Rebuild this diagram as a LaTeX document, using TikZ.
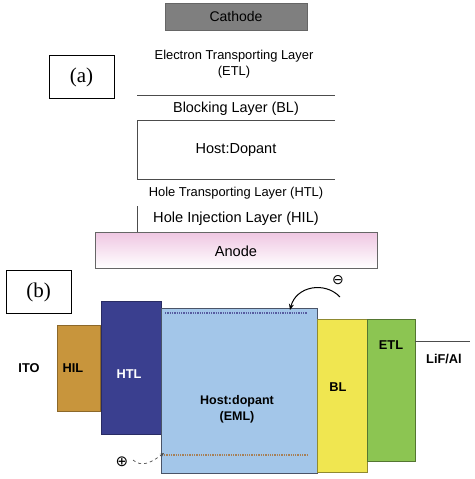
\documentclass[tikz,border=0pt]{standalone}
\usepackage{fontspec}
\setmainfont{Liberation Sans}
\newfontfamily\serifA{Liberation Serif}
\newfontfamily\symf{DejaVu Sans}
\usetikzlibrary{arrows.meta}
\definecolor{cathgray}{HTML}{7F7F7F}
\definecolor{anodepink}{HTML}{EFC6E2}
\definecolor{hilc}{HTML}{C8953C}
\definecolor{htlc}{HTML}{3A3F8F}
\definecolor{emlc}{HTML}{A3C6E9}
\definecolor{blc}{HTML}{F0E650}
\definecolor{etlc}{HTML}{8CC552}
\definecolor{edgec}{HTML}{4A5468}
\begin{document}
\begin{tikzpicture}[x=1pt,y=-1pt,
  lbox/.style={draw=#1, line width=0.8pt, inner sep=0pt, outer sep=0pt, anchor=north west},
  layertxt/.style={inner sep=0pt, align=center},
  btxt/.style={font=\fontsize{12.8}{13}\selectfont\bfseries, inner sep=0pt, align=center},
  tagbox/.style={draw=black, line width=1pt, inner sep=0pt, outer sep=0pt, anchor=north west},
  tagtxt/.style={font=\serifA\fontsize{21}{22}\selectfont, inner sep=0pt},
  thinline/.style={draw=black!70, line width=0.6pt}]
\useasboundingbox (0,0) rectangle (474,479);
% ---------- (a) ----------
\node[lbox=black!60, fill=cathgray, minimum width=142pt, minimum height=27pt] (cath) at (165,3) {};
\node[layertxt, font=\fontsize{14}{14}\selectfont] (cathT) at (236,16.5) {Cathode};
\node[tagbox, minimum width=65pt, minimum height=43pt] (tagA) at (49,55) {};
\node[tagtxt] (tagAT) at (81.5,77) {(a)};
\node[layertxt, font=\fontsize{12.9}{16}\selectfont] (etlA) at (234,64) {Electron Transporting Layer\\(ETL)};
\coordinate (l1a) at (137,95); \coordinate (l1b) at (335,95);
\draw[thinline] (l1a) -- (l1b);
\node[layertxt, font=\fontsize{14.4}{15}\selectfont] (blA) at (236,109) {Blocking Layer (BL)};
\coordinate (l2a) at (137,120); \coordinate (l2b) at (335,120);
\coordinate (l3a) at (137,179); \coordinate (l3b) at (335,179);
\draw[thinline] (l2b) -- (l2a) -- (l3a) -- (l3b);
\node[layertxt, font=\fontsize{14.5}{15}\selectfont] (hostA) at (236,150) {Host:Dopant};
\node[layertxt, font=\fontsize{12.9}{13}\selectfont] (htlA) at (236,193) {Hole Transporting Layer (HTL)};
\coordinate (v1a) at (137,206); \coordinate (v1b) at (137,232);
\draw[thinline] (v1a) -- (v1b);
\node[layertxt, font=\fontsize{14.6}{15}\selectfont] (hilA) at (236,219) {Hole Injection Layer (HIL)};
\node[lbox=black!60, top color=anodepink, bottom color=white, minimum width=282pt, minimum height=36pt] (anode) at (95,232) {};
\node[layertxt, font=\fontsize{14.6}{15}\selectfont] (anodeT) at (236,251) {Anode};
% ---------- (b) ----------
\node[tagbox, minimum width=65pt, minimum height=43pt] (tagB) at (6,270) {};
\node[tagtxt] (tagBT) at (38.5,292) {(b)};
\node[lbox=hilc!70!black, fill=hilc, minimum width=43pt, minimum height=86pt] (hil) at (57,325) {};
\node[lbox=htlc!70!black, fill=htlc, minimum width=60pt, minimum height=133pt] (htl) at (101,301) {};
\node[lbox=edgec, fill=emlc, minimum width=156pt, minimum height=165pt] (eml) at (161,308) {};
\node[lbox=blc!60!black, fill=blc, minimum width=50pt, minimum height=153pt] (bl) at (317,319) {};
\node[lbox=etlc!60!black, fill=etlc, minimum width=48pt, minimum height=142pt] (etl) at (367,319) {};
\coordinate (lif) at (470,341);
\draw[line width=0.6pt, black!70] (etl.east |- lif) -- (lif);
\coordinate (d1a) at (165,313); \coordinate (d1b) at (307,313);
\draw[htlc!85!white, line width=1.4pt, dash pattern=on 1.3pt off 1pt] (d1a) -- (d1b);
\coordinate (d2a) at (164,455); \coordinate (d2b) at (307,455);
\draw[brown!60!gray, line width=1.4pt, dash pattern=on 1.3pt off 1pt] (d2a) -- (d2b);
\node[btxt] (ito) at (29,368) {ITO};
\node[btxt] (hilT) at (73,368) {HIL};
\node[btxt, text=white] (htlT) at (129,374) {HTL};
\node[btxt, font=\fontsize{12.5}{16}\selectfont\bfseries] (emlT) at (237,409) {Host:dopant\\(EML)};
\node[btxt] (blT) at (338,387) {BL};
\node[btxt] (etlT) at (391,345) {ETL};
\node[btxt] (lifT) at (444,359) {LiF/Al};
\node[inner sep=0pt, font=\symf\fontsize{14}{14}\selectfont] (minus) at (338,280) {⊖};
\node[inner sep=0pt, font=\symf\fontsize{15}{15}\selectfont] (plus) at (122,462) {⊕};
\coordinate (eTip) at (290,310);
\coordinate (hTip) at (164,453);
\coordinate (eStart) at (340,297);
\coordinate (hStart) at (133,460);
\draw[-{Stealth[length=6pt,width=5pt]}, line width=1pt] (eStart) .. controls (325,281) and (296,286) .. (eTip);
\draw[-{Stealth[length=4pt,width=3.5pt]}, line width=0.7pt, dashed, black!70] (hStart) .. controls (142,468) and (152,462) .. (hTip);
\end{tikzpicture}
\end{document}
